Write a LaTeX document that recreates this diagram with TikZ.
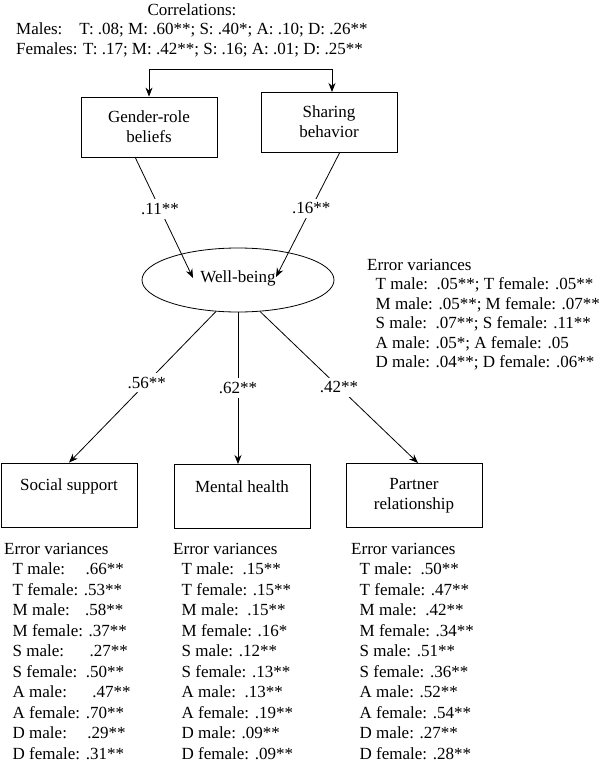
\documentclass[tikz,border=0pt]{standalone}
\usepackage{fontspec}
\setmainfont{Liberation Serif}
\usetikzlibrary{arrows.meta,shapes.geometric}
\begin{document}
\begin{tikzpicture}[x=1pt,y=-1pt,
  every node/.style={font=\fontsize{17}{20}\selectfont, inner sep=1pt},
  box/.style={draw, thick, minimum width=136pt, minimum height=60pt, align=center},
  lab/.style={fill=white, inner sep=4pt},
  arr/.style={thick, -{Stealth[length=9pt,width=7pt]}},
  list/.style={anchor=north west, align=left, font=\fontsize{17}{20.5}\selectfont}]
\useasboundingbox (0,0) rectangle (609,767);
\node (corr) at (192,10) {Correlations:};
\node[anchor=west] (m) at (15,30) {Males:\hspace{1em}T: .08; M: .60**; S: .40*; A: .10; D: .26**};
\node[anchor=west] (f) at (15,50) {Females: T: .17; M: .42**; S: .16; A: .01; D: .25**};
\node[box] (g) at (149,127) {Gender-role\\beliefs};
\node[box] (s) at (329,122) {Sharing\\behavior};
\coordinate (bl) at (149,69);
\coordinate (br) at (332,69);
\draw[arr] (br) -- (bl) -- (g.north);
\draw[arr] (bl) -- (br) -- (332,92);
\node[draw, thick, ellipse, minimum width=192pt, minimum height=64pt] (w) at (238,280) {};
\node at (238,278) {Well-being};
\coordinate (g1) at (135,157);
\coordinate (s1) at (340,152);
\coordinate (w1) at (193,278);
\coordinate (w2) at (276,277);
\draw[arr] (g1) -- node[lab, pos=0.43]{.11**} (w1);
\draw[arr] (s1) -- node[lab, pos=0.45]{.16**} (w2);
\node[list, font=\fontsize{17}{19.5}\selectfont] (ev) at (366,258) {Error variances\\
\hspace{0.5em}T male:\ \ .05**; T female: .05**\\
\hspace{0.5em}M male: .05**; M female: .07**\\
\hspace{0.5em}S male:\ \ .07**; S female: .11**\\
\hspace{0.5em}A male: .05*; A female: .05\\
\hspace{0.5em}D male: .04**; D female: .06**};
\node[box, minimum height=64pt] (ss) at (69,495) {};
\node at (69,486) {Social support};
\node[box, minimum height=64pt] (mh) at (242,496) {};
\node at (242,487) {Mental health};
\node[box, minimum height=64pt] (pr) at (414,495) {};
\node[align=center] at (414,496) {Partner\\relationship};
\coordinate (mt) at (238,464);
\coordinate (pt) at (418,463);
\draw[arr] (w.235) -- node[lab, pos=0.47]{.56**} (ss.north);
\draw[arr] (w.270) -- node[lab, pos=0.5]{.62**} (mt);
\draw[arr] (w.305) -- node[lab, pos=0.5]{.42**} (pt);
\node[list] (e1) at (3,542) {Error variances\\
\hspace{0.5em}T male:\hspace{1.2em}.66**\\
\hspace{0.5em}T female: .53**\\
\hspace{0.5em}M male:\hspace{0.9em}.58**\\
\hspace{0.5em}M female: .37**\\
\hspace{0.5em}S male:\hspace{1.5em}.27**\\
\hspace{0.5em}S female:\hspace{0.5em}.50**\\
\hspace{0.5em}A male:\hspace{1.5em}.47**\\
\hspace{0.5em}A female: .70**\\
\hspace{0.5em}D male:\hspace{1.2em}.29**\\
\hspace{0.5em}D female: .31**};
\node[list] (e2) at (172,542) {Error variances\\
\hspace{0.5em}T male:\ \ .15**\\
\hspace{0.5em}T female: .15**\\
\hspace{0.5em}M male:\ \ .15**\\
\hspace{0.5em}M female: .16*\\
\hspace{0.5em}S male: .12**\\
\hspace{0.5em}S female: .13**\\
\hspace{0.5em}A male:\ \ .13**\\
\hspace{0.5em}A female: .19**\\
\hspace{0.5em}D male: .09**\\
\hspace{0.5em}D female: .09**};
\node[list] (e3) at (350,542) {Error variances\\
\hspace{0.5em}T male:\ \ .50**\\
\hspace{0.5em}T female: .47**\\
\hspace{0.5em}M male:\ \ .42**\\
\hspace{0.5em}M female: .34**\\
\hspace{0.5em}S male: .51**\\
\hspace{0.5em}S female: .36**\\
\hspace{0.5em}A male: .52**\\
\hspace{0.5em}A female: .54**\\
\hspace{0.5em}D male: .27**\\
\hspace{0.5em}D female: .28**};
\end{tikzpicture}
\end{document}
